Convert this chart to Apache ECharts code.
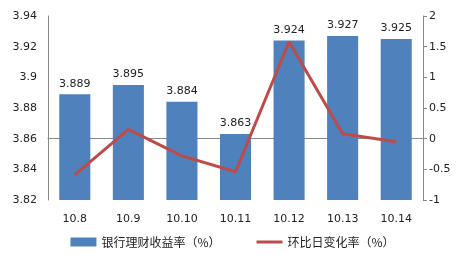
<!DOCTYPE html>
<html><head><meta charset="utf-8">
<script src="https://cdn.jsdelivr.net/npm/echarts@6/dist/echarts.min.js"></script>
<style>html,body{margin:0;padding:0;background:#fff}#c{width:465px;height:255px}</style>
</head><body><div id="c"></div>
<script>
const categories = ['10.8','10.9','10.10','10.11','10.12','10.13','10.14'];
const yieldValues = [3.889, 3.895, 3.884, 3.863, 3.924, 3.927, 3.925];
const changeValues = [-0.59, 0.15, -0.28, -0.54, 1.58, 0.08, -0.05];
const leftTicks = {min: 3.82, max: 3.94, interval: 0.02};
const rightTicks = {min: -1, max: 2, interval: 0.5};
const seriesNames = ['银行理财收益率（%）', '环比日变化率（%）'];

const font = 'DejaVu Sans, Verdana, sans-serif';
const chart = echarts.init(document.getElementById('c'), null, {renderer: 'canvas'});
chart.setOption({
  animation: false,
  grid: {left: 48, right: 42, top: 16, bottom: 55},
  legend: {
    bottom: 2, left: 'center', itemGap: 36, itemWidth: 26, itemHeight: 9,
    textStyle: {fontSize: 12, color: '#222', fontFamily: 'Noto Sans CJK SC'},
    data: [
      {name: seriesNames[0], icon: 'rect'},
      {name: seriesNames[1], icon: 'path://M0,0 L26,0 L26,3 L0,3 Z'}
    ]
  },
  xAxis: {
    type: 'category', data: categories,
    axisLine: {lineStyle: {color: '#888'}},
    axisTick: {show: false},
    axisLabel: {color: '#222', fontSize: 11, fontFamily: font, margin: 14}
  },
  yAxis: [{
    type: 'value', min: leftTicks.min, max: leftTicks.max, interval: leftTicks.interval,
    splitLine: {show: false},
    axisLine: {show: true, lineStyle: {color: '#888'}},
    axisTick: {show: false},
    axisLabel: {color: '#222', fontSize: 11, fontFamily: font, margin: 11,
      formatter: v => String(Math.round(v * 100) / 100)}
  }, {
    type: 'value', min: rightTicks.min, max: rightTicks.max, interval: rightTicks.interval,
    splitLine: {show: false},
    axisLine: {show: true, lineStyle: {color: '#888'}},
    axisTick: {show: true, length: 4, lineStyle: {color: '#888'}},
    axisLabel: {color: '#222', fontSize: 11, fontFamily: font, margin: 6}
  }],
  series: [{
    name: seriesNames[0], type: 'bar', data: yieldValues, barWidth: '58%',
    itemStyle: {color: '#4F81BD'},
    label: {show: true, position: 'top', color: '#222', fontSize: 11, fontFamily: font,
      formatter: p => p.value.toFixed(3)}
  }, {
    name: seriesNames[1], type: 'line', yAxisIndex: 1, data: changeValues,
    symbol: 'none', lineStyle: {color: '#BE4B48', width: 3}, itemStyle: {color: '#BE4B48'}
  }]
});
</script></body></html>
